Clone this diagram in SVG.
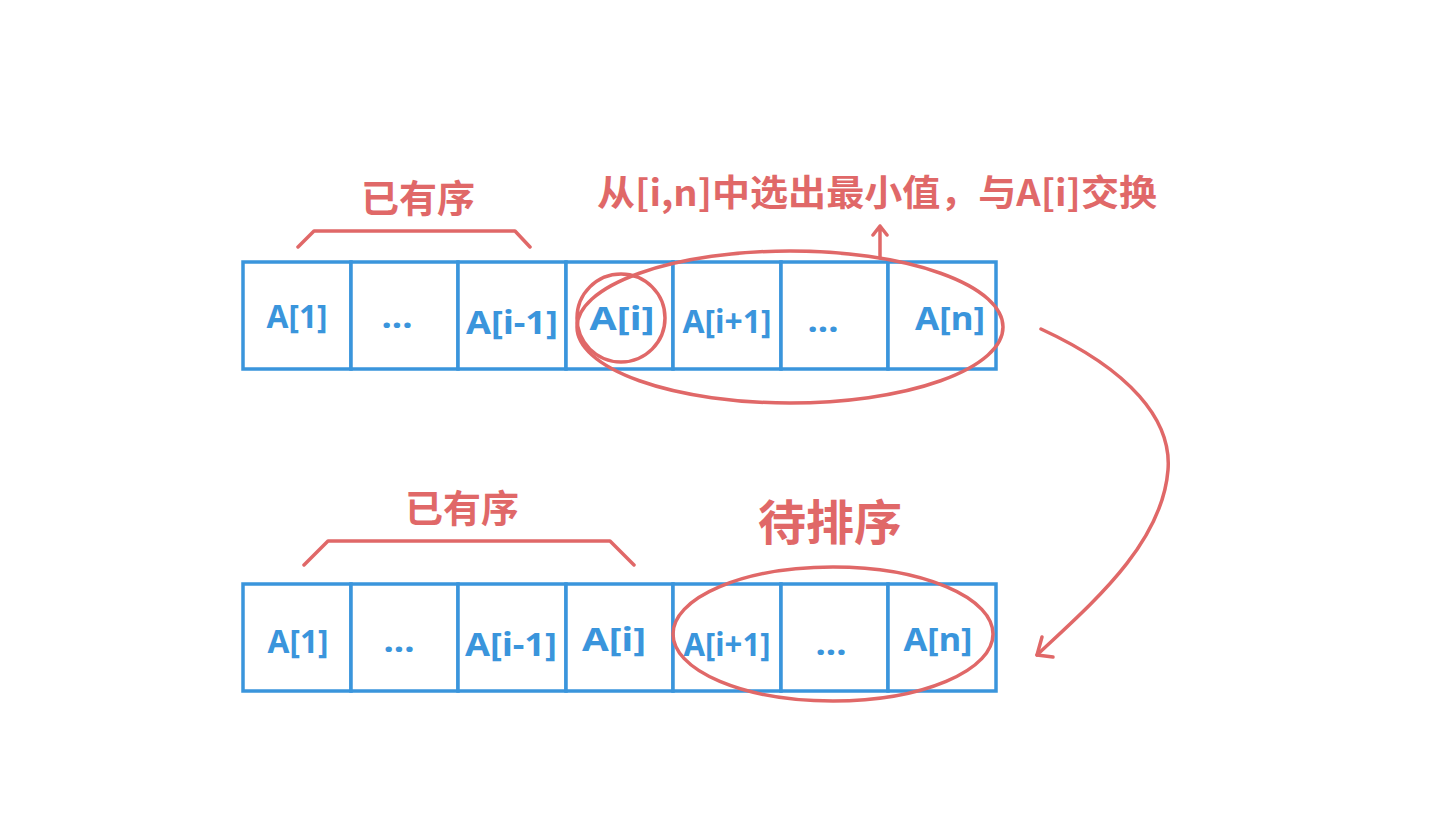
<svg xmlns="http://www.w3.org/2000/svg" width="1446" height="826" viewBox="0 0 1446 826">
<style>
.cell{fill:#fff;stroke:#3a95dc;stroke-width:3.5}
.lbl{font-family:"Noto Sans","Liberation Sans",sans-serif;font-weight:bold;font-size:33px;fill:#3a95dc;text-anchor:middle}
.red{fill:none;stroke:#e06868;stroke-width:3.5;stroke-linecap:round;stroke-linejoin:round}
.cn{font-family:"Noto Sans CJK SC","Noto Sans",sans-serif;font-weight:bold;fill:#e06868;text-anchor:middle}
</style>
<rect width="1446" height="826" fill="#fff"/>
<g id="top-array">
<g id="t1"><rect class="cell" x="243" y="262" width="108" height="107"/><text class="lbl" x="297" y="328" textLength="61" lengthAdjust="spacingAndGlyphs">A[1]</text></g>
<g id="t2"><rect class="cell" x="351" y="262" width="107" height="107"/><text class="lbl" x="397" y="328" textLength="31" lengthAdjust="spacingAndGlyphs">...</text></g>
<g id="t3"><rect class="cell" x="458" y="262" width="108" height="107"/><text class="lbl" x="512" y="334" textLength="92" lengthAdjust="spacingAndGlyphs">A[i-1]</text></g>
<g id="t4"><rect class="cell" x="566" y="262" width="107" height="107"/><text class="lbl" x="622" y="330" textLength="65" lengthAdjust="spacingAndGlyphs">A[i]</text></g>
<g id="t5"><rect class="cell" x="673" y="262" width="108" height="107"/><text class="lbl" x="727" y="333" textLength="89" lengthAdjust="spacingAndGlyphs">A[i+1]</text></g>
<g id="t6"><rect class="cell" x="781" y="262" width="107" height="107"/><text class="lbl" x="823" y="332" textLength="31" lengthAdjust="spacingAndGlyphs">...</text></g>
<g id="t7"><rect class="cell" x="888" y="262" width="108" height="107"/><text class="lbl" x="950" y="330" textLength="70" lengthAdjust="spacingAndGlyphs">A[n]</text></g>
</g>
<g id="bottom-array">
<g id="b1"><rect class="cell" x="243" y="584" width="108" height="107"/><text class="lbl" x="298" y="653" textLength="61" lengthAdjust="spacingAndGlyphs">A[1]</text></g>
<g id="b2"><rect class="cell" x="351" y="584" width="107" height="107"/><text class="lbl" x="399" y="652" textLength="31" lengthAdjust="spacingAndGlyphs">...</text></g>
<g id="b3"><rect class="cell" x="458" y="584" width="108" height="107"/><text class="lbl" x="511" y="656" textLength="92" lengthAdjust="spacingAndGlyphs">A[i-1]</text></g>
<g id="b4"><rect class="cell" x="566" y="584" width="107" height="107"/><text class="lbl" x="614" y="651" textLength="64" lengthAdjust="spacingAndGlyphs">A[i]</text></g>
<g id="b5"><rect class="cell" x="673" y="584" width="108" height="107"/><text class="lbl" x="727" y="656" textLength="87" lengthAdjust="spacingAndGlyphs">A[i+1]</text></g>
<g id="b6"><rect class="cell" x="781" y="584" width="107" height="107"/><text class="lbl" x="831" y="655" textLength="31" lengthAdjust="spacingAndGlyphs">...</text></g>
<g id="b7"><rect class="cell" x="888" y="584" width="108" height="107"/><text class="lbl" x="938" y="651" textLength="69" lengthAdjust="spacingAndGlyphs">A[n]</text></g>
</g>
<g id="top-sorted-label">
<polyline class="red" points="298,247 314,231 515,231 530,247"/>
<text class="cn" x="418" y="212" font-size="38">已有序</text>
</g>
<g id="bottom-sorted-label">
<polyline class="red" points="304,565 328,541 610,541 634,565"/>
<text class="cn" x="462" y="522" font-size="38">已有序</text>
</g>
<g id="unsorted-label">
<text class="cn" x="830" y="540" font-size="48">待排序</text>
</g>
<g id="top-note">
<text class="cn" x="877" y="206" font-size="36" textLength="560" lengthAdjust="spacingAndGlyphs">从[i,n]中选出最小值，与A[i]交换</text>
</g>
<g id="connectors">
<ellipse class="red" cx="621" cy="318" rx="44" ry="44"/>
<ellipse class="red" cx="790" cy="327" rx="213" ry="76"/>
<ellipse class="red" cx="833" cy="634" rx="160" ry="67"/>
<path class="red" d="M880,258 L880,226 M873,235 L880,226 L887,235"/>
<path class="red" d="M1041,329 C1130,370 1172,420 1168,470 C1162,545 1090,605 1037,655"/>
<path class="red" d="M1042,637 L1037,655 L1053,657"/>
</g>
</svg>
